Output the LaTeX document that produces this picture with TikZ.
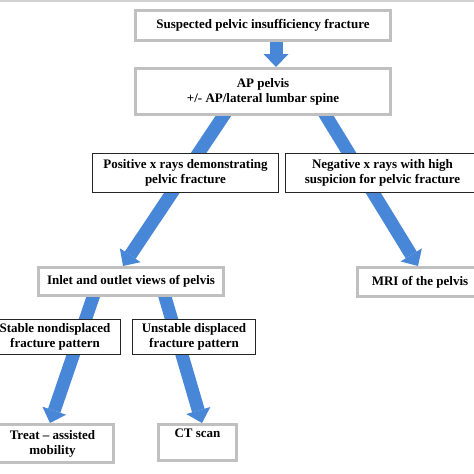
\documentclass[tikz,border=0pt]{standalone}
\usepackage{fontspec}
\setmainfont{Liberation Serif}
\usetikzlibrary{arrows.meta, calc, backgrounds}
\definecolor{flowblue}{RGB}{72,134,215}
\definecolor{boxgray}{RGB}{192,192,192}

\begin{document}
\begin{tikzpicture}[x=1pt, y=-1pt,
  graybox/.style={draw=boxgray, line width=3pt, fill=white, rectangle, align=center, inner sep=0pt, font=\fontsize{13}{15}\selectfont\bfseries},
  linebox/.style={draw=black!85, line width=1.2pt, fill=white, rectangle, align=center, inner sep=0pt, font=\fontsize{13}{15}\selectfont\bfseries},
  flow/.style={draw=flowblue, line width=13pt, -{Triangle[length=13pt, width=25pt, line width=0pt]}}]
  \useasboundingbox (0,0) rectangle (474,474);
  \fill[black!18] (0,0) rectangle (474,2);

  \node[graybox, minimum width=255pt, minimum height=30pt] (susp) at (263,25.5) {Suspected pelvic insufficiency fracture};
  \node[graybox, minimum width=255pt, minimum height=46pt] (ap) at (263,91.5) {AP pelvis\\+/- AP/lateral lumbar spine};
  \node[linebox, minimum width=186pt, minimum height=39pt] (pos) at (185.5,173) {Positive x rays demonstrating\\pelvic fracture};
  \node[linebox, minimum width=194pt, minimum height=39pt] (neg) at (382.5,173) {Negative x rays with high\\suspicion for pelvic fracture};
  \node[graybox, minimum width=185pt, minimum height=28pt] (inlet) at (131,281.5) {Inlet and outlet views of pelvis};
  \node[graybox, minimum width=125pt, minimum height=29pt] (mri) at (420,282) {MRI of the pelvis};
  \node[linebox, minimum width=131pt, minimum height=35pt] (stable) at (55,337) {Stable nondisplaced\\fracture pattern};
  \node[linebox, minimum width=123pt, minimum height=35pt] (unstable) at (194,337) {Unstable displaced\\fracture pattern};
  \node[graybox, minimum width=122pt, minimum height=38pt] (treat) at (52.5,443.5) {Treat -- assisted\\mobility};
  \node[graybox, minimum width=78pt, minimum height=36pt] (ct) at (197.5,442.5) {CT scan\\\strut};

  % blue arrows behind the boxes
  \begin{scope}[on background layer]
    \draw[flow] ($(susp.south)+(13,-6)$) -- ($(ap.north)+(13,0)$);
    \draw[flow] ($(ap.south)+(-33,-10)$) -- ($(inlet.north)+(-8,0)$);
    \draw[flow] ($(ap.south)+(57,-10)$) -- ($(mri.north)+(-2,0)$);
    \draw[flow] ($(inlet.south)+(-35.5,-7)$) -- ($(treat.north)+(-2.5,0)$);
    \draw[flow] ($(inlet.south)+(32,-7)$) -- ($(ct.north)+(4.5,0)$);
  \end{scope}
\end{tikzpicture}
\end{document}
